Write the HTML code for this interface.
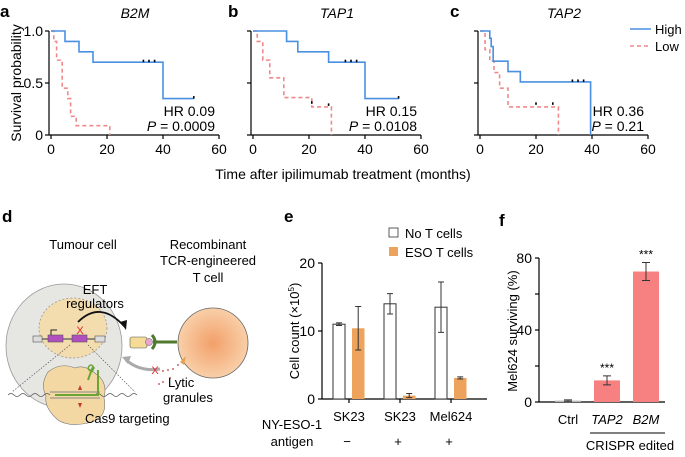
<!DOCTYPE html>
<html><head><meta charset="utf-8">
<style>
html,body{margin:0;padding:0;background:#fff}
svg{display:block;font-family:"Liberation Sans",Arial,sans-serif}
</style></head>
<body>
<svg id="fig" width="685" height="457" viewBox="0 0 685 457" xmlns="http://www.w3.org/2000/svg">
<g id="km"></g>
<g>
  <text x="2" y="222" font-size="17" font-weight="bold">d</text>
  <text x="83" y="249" font-size="13" text-anchor="middle">Tumour cell</text>
  <text x="208" y="249" font-size="13" text-anchor="middle">Recombinant</text>
  <text x="208" y="265" font-size="13" text-anchor="middle">TCR-engineered</text>
  <text x="208" y="282" font-size="13" text-anchor="middle">T cell</text>
  <ellipse cx="64" cy="346" rx="58" ry="62" fill="#e6e6e2" stroke="#999" stroke-width="0.8"/>
  <ellipse cx="73" cy="328" rx="34" ry="30" fill="#f3dcae" stroke="#999" stroke-dasharray="2,2" stroke-width="0.8"/>
  <line x1="33" y1="339" x2="105" y2="339" stroke="#555" stroke-width="1.2"/>
  <rect x="33" y="336" width="9" height="6" fill="#ddd" stroke="#555" stroke-width="0.6"/>
  <rect x="48" y="335" width="15" height="7" fill="#b14fbf" stroke="#555" stroke-width="0.6"/>
  <rect x="72" y="335" width="15" height="7" fill="#b14fbf" stroke="#555" stroke-width="0.6"/>
  <rect x="95" y="336" width="10" height="6" fill="#ddd" stroke="#555" stroke-width="0.6"/>
  <path d="M51 335 V330 H57" fill="none" stroke="#222" stroke-width="1"/>
  <text x="80" y="334" font-size="11" fill="#e8262b" text-anchor="middle">X</text>
  <text x="95" y="294" font-size="13" text-anchor="middle">EFT</text>
  <text x="95" y="308" font-size="13" text-anchor="middle">regulators</text>
  <path d="M78 322 Q100 300 124 326" fill="none" stroke="#111" stroke-width="1.8"/>
  <path d="M120 322 L126 330 L127 320 Z" fill="#111"/>
  <rect x="130" y="337" width="17" height="11" rx="2" fill="#f4dc96" stroke="#555" stroke-width="0.6"/>
  <circle cx="149" cy="342" r="3.5" fill="#e7a7d0" stroke="#555" stroke-width="0.5"/>
  <path d="M152 335 Q158 342 152 349 M153 342 H177" fill="none" stroke="#4f7a2d" stroke-width="3"/>
  <defs><radialGradient id="tc"><stop offset="0" stop-color="#f2a06a"/><stop offset="1" stop-color="#f9cfa8"/></radialGradient></defs>
  <circle cx="213" cy="343" r="35" fill="url(#tc)" stroke="#666" stroke-width="0.8"/>
  <path d="M160 369 Q140 372 126 360" fill="none" stroke="#aaa" stroke-width="3"/>
  <path d="M122 357 L131 356 L128 364 Z" fill="#aaa"/>
  <text x="155" y="374" font-size="11" fill="#e8262b" text-anchor="middle">X</text>
  <g fill="#c86a6a"><circle cx="163" cy="371" r="1"/><circle cx="168" cy="370" r="1"/><circle cx="173" cy="369" r="1"/><circle cx="178" cy="365" r="1"/><circle cx="163" cy="382" r="1"/><circle cx="159" cy="384" r="1"/><circle cx="170" cy="378" r="1"/></g>
  <path d="M180 362 L186 356 L184 365 Z" fill="#e8a050"/>
  <text x="168" y="387" font-size="13">Lytic</text>
  <text x="163" y="402" font-size="13">granules</text>
  <line x1="70" y1="345" x2="12" y2="392" stroke="#555" stroke-dasharray="1.5,1.5" stroke-width="0.7"/>
  <line x1="88" y1="345" x2="135" y2="392" stroke="#555" stroke-dasharray="1.5,1.5" stroke-width="0.7"/>
  <path d="M48 372 Q60 362 75 368 Q85 364 96 374 Q108 382 104 398 Q108 416 92 422 Q70 428 58 420 Q44 408 46 396 Q40 384 48 372 Z" fill="#f4d8a4" stroke="#777" stroke-width="0.6"/>
  <path d="M8 395 q3 -3 6 0 t6 0 t6 0 t6 0 t6 0 t6 0 t6 0 M95 395 q3 -3 6 0 t6 0 t6 0 t6 0 t6 0 t6 0 t6 0" fill="none" stroke="#555" stroke-width="0.8"/>
  <path d="M50 392 H100 M50 398 H100" stroke="#888" stroke-width="1"/>
  <path d="M55 395 H98 V370 M88 380 Q95 360 92 372" fill="none" stroke="#6aa535" stroke-width="2"/>
  <path d="M88 368 q3 -6 6 0 q-3 6 -6 0" fill="none" stroke="#6aa535" stroke-width="1.5"/>
  <path d="M80 385 l-2 5 h4 z M80 408 l-2 -5 h4 z" fill="#c0392b"/>
  <text x="85" y="423" font-size="13">Cas9 targeting</text>
</g>
<g id="pe"></g>
<g id="pf"></g>
</svg>
<script>
// ---------- Panel a-c data ----------
const kmAHighT=[0,5,10,15,40], kmAHighS=[1,0.9,0.8,0.7,0.35], kmAHighEnd=51, kmAHighCens=[33,35,37,51], kmAHighCensS=[0.7,0.7,0.7,0.35];
const kmALowT=[0,1,2,4,6,7,9,21], kmALowS=[1,0.9,0.72,0.45,0.35,0.18,0.09,0], kmALowEnd=21;
const kmBHighT=[0,12,16,27,40], kmBHighS=[1,0.9,0.8,0.7,0.35], kmBHighEnd=52, kmBHighCens=[33,35,37,52], kmBHighCensS=[0.7,0.7,0.7,0.35];
const kmBLowT=[0,1.5,3.5,6,11,21,28], kmBLowS=[1,0.9,0.72,0.55,0.36,0.27,0], kmBLowEnd=28, kmBLowCens=[21,27], kmBLowCensS=[0.3,0.28];
const kmCHighT=[0,3.5,4,4.7,10,14.4,39.5], kmCHighS=[1,0.93,0.85,0.71,0.61,0.51,0], kmCHighEnd=39.5, kmCHighCens=[33,35,37], kmCHighCensS=[0.51,0.51,0.51];
const kmCLowT=[0,1.8,3.5,5,7,10,28], kmCLowS=[1,0.82,0.71,0.6,0.45,0.27,0], kmCLowEnd=28, kmCLowCens=[20,26], kmCLowCensS=[0.29,0.29];
const kmXTicks=[0,20,40,60];
const kmYTicks=[0,0.5,1.0];
const kmYTickLabels=["0","0.5","1.0"];
const kmTitles=["B2M","TAP1","TAP2"];
const kmHR=["HR 0.09","HR 0.15","HR 0.36"];
const kmP=["0.0009","0.0108","0.21"];

// ---------- Panel e data ----------
const eGroups=["SK23","SK23","Mel624"];
const eAntigen=["\u2212","+","+"];
const eNoT=[11,14,13.5], eNoTErr=[0.2,1.5,3.7];
const eESO=[10.4,0.5,3.1], eESOErr=[3.2,0.3,0.15];
const eYTicks=[0,10,20];

// ---------- Panel f data ----------
const fCats=["Ctrl","TAP2","B2M"];
const fVals=[0.8,12,72.5], fErr=[0.4,2.5,5];
const fStars=["","***","***"];
const fYTicks=[0,20,40,60,80];
const fYLabels=["0","","40","","80"];

const NS="http://www.w3.org/2000/svg";
function mk(parent,tag,attrs,text){const e=document.createElementNS(NS,tag);for(const k in attrs)e.setAttribute(k,attrs[k]);if(text!==undefined)e.textContent=text;parent.appendChild(e);return e;}

const FS=14;
const km=document.getElementById('km');
const panels=[
 {x0:51,ht:kmAHighT,hs:kmAHighS,he:kmAHighEnd,hc:kmAHighCens,hcs:kmAHighCensS,lt:kmALowT,ls:kmALowS,le:kmALowEnd,lc:[],lcs:[],lab:"a",lx:0},
 {x0:253,ht:kmBHighT,hs:kmBHighS,he:kmBHighEnd,hc:kmBHighCens,hcs:kmBHighCensS,lt:kmBLowT,ls:kmBLowS,le:kmBLowEnd,lc:kmBLowCens,lcs:kmBLowCensS,lab:"b",lx:228},
 {x0:480,ht:kmCHighT,hs:kmCHighS,he:kmCHighEnd,hc:kmCHighCens,hcs:kmCHighCensS,lt:kmCLowT,ls:kmCLowS,le:kmCLowEnd,lc:kmCLowCens,lcs:kmCLowCensS,lab:"c",lx:450}
];
const kmY0=135,kmY1=31;
panels.forEach((p,i)=>{
  const sx=t=>p.x0+t*(168/60);
  const sy=s=>kmY0-(kmY0-kmY1)*s;
  const g=mk(km,'g',{});
  
  
  const lab=mk(g,'text',{x:p.lx,y:17,'font-size':17,'font-weight':'bold'},p.lab);
  
  
  const tt=mk(g,'text',{x:sx(30),y:18,'font-size':FS,'font-style':'italic','text-anchor':'middle'},kmTitles[i]);
  
  
  const ax=p.x0-2;
  mk(g,'line',{x1:ax,y1:kmY1,x2:ax,y2:kmY0,stroke:'#000','stroke-width':1.2});
  mk(g,'line',{x1:ax,y1:kmY0,x2:sx(60),y2:kmY0,stroke:'#000','stroke-width':1.2});
  kmYTicks.forEach((v,j)=>{
    mk(g,'line',{x1:ax-4,y1:sy(v),x2:ax,y2:sy(v),stroke:'#000','stroke-width':1.2});
    if(i===0){const t=mk(g,'text',{x:ax-6,y:sy(v)+5,'font-size':FS,'text-anchor':'end'},kmYTickLabels[j]);
      
      }
  });
  kmXTicks.forEach(v=>{
    mk(g,'line',{x1:sx(v),y1:kmY0,x2:sx(v),y2:kmY0+4,stroke:'#000','stroke-width':1.2});
    const t=mk(g,'text',{x:sx(v),y:154,'font-size':FS,'text-anchor':'middle'},String(v));
    
    
  });
  function step(T,S,end){let d='M'+sx(T[0])+','+sy(S[0]);for(let k=1;k<T.length;k++){d+=' H'+sx(T[k])+' V'+sy(S[k]);}d+=' H'+sx(end);return d;}
  const lo=mk(g,'path',{d:step(p.lt,p.ls,p.le),fill:'none',stroke:'#f08a8a','stroke-width':1.6,'stroke-dasharray':'4,3'});
  
  
  const hi=mk(g,'path',{d:step(p.ht,p.hs,p.he),fill:'none',stroke:'#4a90e2','stroke-width':1.6});
  
  
  p.hc.forEach((c,k)=>mk(g,'rect',{x:sx(c)-0.8,y:sy(p.hcs[k])-2.5,width:1.6,height:2.5,fill:'#000'}));
  p.lc.forEach((c,k)=>mk(g,'rect',{x:sx(c)-0.8,y:sy(p.lcs[k])-2.5,width:1.6,height:2.5,fill:'#000'}));
  const rx=sx(60)-4;
  const h=mk(g,'text',{x:rx,y:116,'font-size':FS,'text-anchor':'end'},kmHR[i]);
  
  
  const pv=mk(g,'text',{x:rx,y:131,'font-size':FS,'text-anchor':'end'});
  
  
  mk(pv,'tspan',{'font-style':'italic'},'P');
  mk(pv,'tspan',{},' = '+kmP[i]);
});
const yt=mk(km,'text',{x:0,y:0,'font-size':FS,'text-anchor':'middle',transform:'translate(21,83) rotate(-90)'},'Survival probability');


const xt=mk(km,'text',{x:343,y:179,'font-size':FS,'text-anchor':'middle'},'Time after ipilimumab treatment (months)');


const lg=mk(km,'g',{});


mk(lg,'line',{x1:630,y1:29,x2:651,y2:29,stroke:'#4a90e2','stroke-width':1.6});
mk(lg,'text',{x:655,y:34,'font-size':13},'High');
mk(lg,'line',{x1:630,y1:46,x2:651,y2:46,stroke:'#f08a8a','stroke-width':1.6,'stroke-dasharray':'4,3'});
mk(lg,'text',{x:655,y:51,'font-size':13},'Low');

// Panel e
const pe=document.getElementById('pe');
const eY=v=>399-v*6.8;
const eCenters=[349,400,451];
mk(pe,'text',{x:284,y:222,'font-size':17,'font-weight':'bold'},'e');
mk(pe,'line',{x1:322,y1:eY(20),x2:322,y2:399,stroke:'#000','stroke-width':1.2});
mk(pe,'line',{x1:322,y1:399,x2:487,y2:399,stroke:'#000','stroke-width':1.2});
eYTicks.forEach(v=>{mk(pe,'line',{x1:318,y1:eY(v),x2:322,y2:eY(v),stroke:'#000','stroke-width':1.2});
  const t=mk(pe,'text',{x:315,y:eY(v)+5,'font-size':FS,'text-anchor':'end'},String(v));
  
  });
eGroups.forEach((gname,i)=>{
  const c=eCenters[i];
  mk(pe,'line',{x1:c,y1:399,x2:c,y2:403,stroke:'#000','stroke-width':1.2});
  const b1=mk(pe,'rect',{x:c-16,y:eY(eNoT[i]),width:12,height:eY(0)-eY(eNoT[i]),fill:'#fff',stroke:'#333','stroke-width':1});
  
  
  const b2=mk(pe,'rect',{x:c+3,y:eY(eESO[i]),width:12.5,height:eY(0)-eY(eESO[i]),fill:'#eea35c'});
  
  
  [[c-10,eNoT[i],eNoTErr[i]],[c+9.2,eESO[i],eESOErr[i]]].forEach(([x,v,e])=>{
    mk(pe,'path',{d:`M${x},${eY(v+e)} V${eY(v-e)} M${x-3},${eY(v+e)} H${x+3} M${x-3},${eY(v-e)} H${x+3}`,stroke:'#333','stroke-width':1,fill:'none'});
  });
  const t=mk(pe,'text',{x:c,y:421,'font-size':13,'text-anchor':'middle'},gname);
  
  
  mk(pe,'text',{x:c-2,y:446,'font-size':13,'text-anchor':'middle'},eAntigen[i]);
});
mk(pe,'text',{x:292,y:429,'font-size':13,'text-anchor':'middle'},'NY-ESO-1');
mk(pe,'text',{x:292,y:446,'font-size':13,'text-anchor':'middle'},'antigen');
const ey=mk(pe,'text',{'font-size':13,'text-anchor':'middle',transform:'translate(299,331) rotate(-90)'});


mk(ey,'tspan',{},'Cell count (\u00d710');mk(ey,'tspan',{'font-size':8,dy:-5},'5');mk(ey,'tspan',{dy:5},')');
const el=mk(pe,'g',{});


mk(el,'rect',{x:389,y:228,width:9,height:9,fill:'#fff',stroke:'#333','stroke-width':0.8});
mk(el,'text',{x:405,y:238,'font-size':13},'No T cells');
mk(el,'rect',{x:389,y:247,width:9,height:9,fill:'#eea35c'});
mk(el,'text',{x:405,y:257,'font-size':13},'ESO T cells');

// Panel f
const pf=document.getElementById('pf');
const fY=v=>402-v*1.8;
const fCenters=[568,607,646];
mk(pf,'text',{x:499,y:226,'font-size':17,'font-weight':'bold'},'f');
mk(pf,'line',{x1:539,y1:fY(80),x2:539,y2:402,stroke:'#000','stroke-width':1.2});
mk(pf,'line',{x1:539,y1:402,x2:665,y2:402,stroke:'#000','stroke-width':1.2});
fYTicks.forEach((v,j)=>{mk(pf,'line',{x1:535,y1:fY(v),x2:539,y2:fY(v),stroke:'#000','stroke-width':1.2});
  if(fYLabels[j]){const t=mk(pf,'text',{x:532,y:fY(v)+5,'font-size':FS,'text-anchor':'end'},fYLabels[j]);
  
  }});
fCats.forEach((c,i)=>{
  const x=fCenters[i];
  const b=mk(pf,'rect',{x:x-13,y:fY(fVals[i]),width:26,height:fY(0)-fY(fVals[i]),fill:i===0?'#bbb':'#f78080'});
  
  
  const v=fVals[i],e=fErr[i];
  mk(pf,'path',{d:`M${x},${fY(v+e)} V${fY(v-e)} M${x-4},${fY(v+e)} H${x+4} M${x-4},${fY(v-e)} H${x+4}`,stroke:'#333','stroke-width':1,fill:'none'});
  if(fStars[i])mk(pf,'text',{x:x,y:fY(v+e)-4,'font-size':12,'text-anchor':'middle'},fStars[i]);
  const t=mk(pf,'text',{x:x,y:424,'font-size':13,'text-anchor':'middle','font-style':i===0?'normal':'italic'},c);
  
  
});
mk(pf,'line',{x1:590,y1:433,x2:665,y2:433,stroke:'#000','stroke-width':1});
mk(pf,'text',{x:630,y:450,'font-size':13,'text-anchor':'middle'},'CRISPR edited');
const fy=mk(pf,'text',{'font-size':13,'text-anchor':'middle',transform:'translate(517,331) rotate(-90)'},'Mel624 surviving (%)');


</script>
</body></html>
